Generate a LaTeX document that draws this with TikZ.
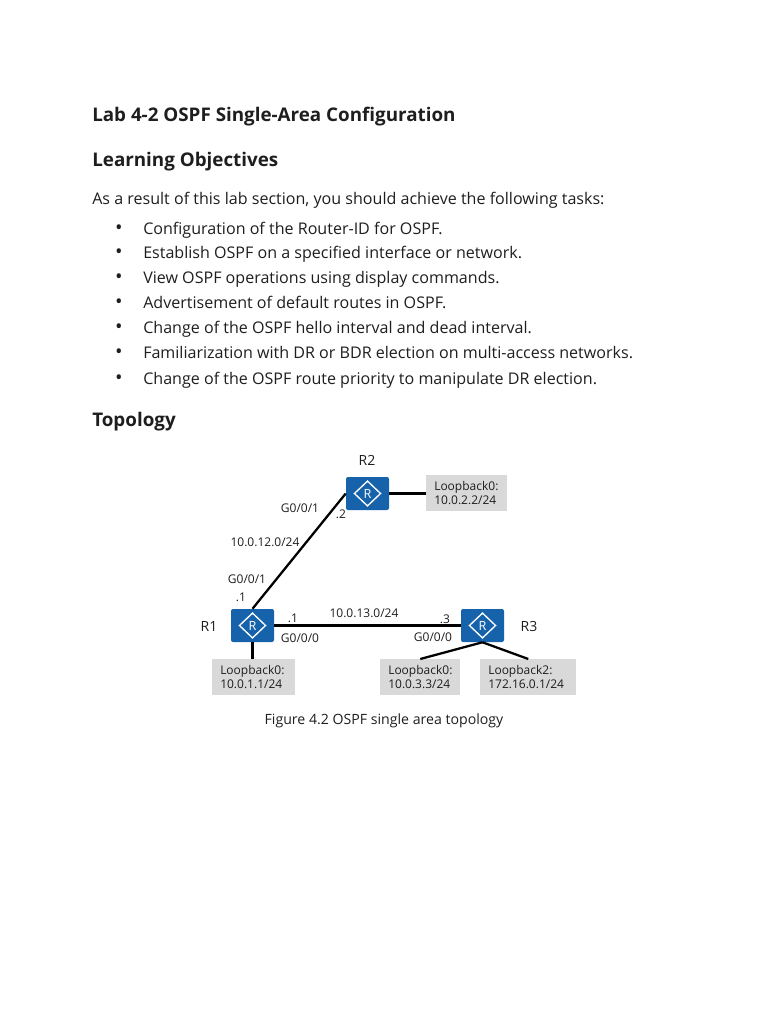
\documentclass[tikz,border=0pt]{standalone}
\usepackage{fontspec}
\setmainfont{Open Sans}
\usepackage{tikz}
\usetikzlibrary{positioning,shapes.geometric}

\definecolor{routerblue}{HTML}{1763AB}
\definecolor{loopgray}{HTML}{D9D9D9}
\definecolor{inktext}{HTML}{1E1E1E}

\begin{document}
\begin{tikzpicture}[
		x=0.75pt, y=-0.75pt,
		every node/.style={text=inktext},
		heading/.style={anchor=base west, inner sep=0pt, font=\bfseries\fontsize{#1}{#1}\selectfont},
		body/.style={anchor=base west, inner sep=0pt, font=\fontsize{12.05}{14}\selectfont},
		bullet/.style={anchor=center, inner sep=0pt, font=\fontsize{15}{15}\selectfont},
		router/.style={rectangle, fill=routerblue, rounded corners=1.5pt, minimum width=32.25pt, minimum height=24.75pt, inner sep=0pt},
		routermark/.style={diamond, draw=white, line width=1pt, minimum width=20pt, minimum height=19pt, inner sep=0pt, text=white, font=\fontsize{9.5}{10}\selectfont},
		loopbox/.style={rectangle, fill=loopgray, anchor=north west, align=left, text width=#1, minimum height=26.5pt, inner sep=0pt, inner xsep=6pt, font=\fontsize{9}{10}\selectfont},
		tag/.style={inner sep=0pt, font=\fontsize{9}{11}\selectfont},
		rname/.style={inner sep=0pt, font=\fontsize{10.5}{12}\selectfont},
		link/.style={line width=1.7pt, black}
		]
		\useasboundingbox (0,0) rectangle (768,1024);
		
		%==================== Text ====================%
		\node[heading=14.1] (title) at (92,122) {Lab 4-2 OSPF Single-Area Configuration};
		\node[heading=14.1] (objectives) at (92,166) {Learning Objectives};
		\node[body] (intro) at (92,204.5) {As a result of this lab section, you should achieve the following tasks:};
		
		\node[bullet] (b1) at (119,229.5) {•};
		\node[bullet] (b2) at (119,254) {•};
		\node[bullet] (b3) at (119,278.5) {•};
		\node[bullet] (b4) at (119,303.5) {•};
		\node[bullet] (b5) at (119,328.5) {•};
		\node[bullet] (b6) at (119,353.5) {•};
		\node[bullet] (b7) at (119,379.5) {•};
		
		\node[body] (t1) at (143,234) {Configuration of the Router-ID for OSPF.};
		\node[body] (t2) at (143,258.5) {Establish OSPF on a specified interface or network.};
		\node[body] (t3) at (143,283) {View OSPF operations using display commands.};
		\node[body] (t4) at (143,308) {Advertisement of default routes in OSPF.};
		\node[body] (t5) at (143,333) {Change of the OSPF hello interval and dead interval.};
		\node[body] (t6) at (143,358) {Familiarization with DR or BDR election on multi-access networks.};
		\node[body] (t7) at (143,384) {Change of the OSPF route priority to manipulate DR election.};
		
		\node[heading=14.1] (topology) at (92,426) {Topology};
		
		%==================== Routers ====================%
		\node[router] (r1) at (252.5,625.5) {};
		\node[router] (r2) at (367.5,493.5) {};
		\node[router] (r3) at (482.5,625.5) {};
		\node[routermark] (m1) at (r1) {R};
		\node[routermark] (m2) at (r2) {R};
		\node[routermark] (m3) at (r3) {R};
		
		\node[rname] (n1) at (209,626) {R1};
		\node[rname] (n2) at (367,460.5) {R2};
		\node[rname] (n3) at (529,626) {R3};
		
		%==================== Loopbacks ====================%
		\node[loopbox=50.25pt] (lb1) at (212,659) {Loopback0:\\10.0.1.1/24};
		\node[loopbox=48.75pt] (lb2) at (426,475) {Loopback0:\\10.0.2.2/24};
		\node[loopbox=48pt] (lb3) at (380,659) {Loopback0:\\10.0.3.3/24};
		\node[loopbox=60pt] (lb4) at (480,659) {Loopback2:\\172.16.0.1/24};
		
		%==================== Arrows ====================%
		\draw[link] (r1.north) -- (r2.west);
		\draw[link] (r1.east) -- (r3.west);
		\draw[link] (r2.east) -- (r2.east -| lb2.west);
		\draw[link] (r1.south) -- (r1.south |- lb1.north);
		\draw[link] (r3.south) -- (lb3.north);
		\draw[link] (r3.south) -- (lb4.north);
		
		%==================== Labels ====================%
		\node[tag] (p1) at (300,508.5) {G0/0/1};
		\node[tag] (a2) at (341,514.5) {.2};
		\node[tag] (net12) at (265,542) {10.0.12.0/24};
		\node[tag] (p2) at (247,579.5) {G0/0/1};
		\node[tag] (a1) at (241,597.5) {.1};
		\node[tag] (a3) at (293,618.5) {.1};
		\node[tag] (net13) at (364,613.5) {10.0.13.0/24};
		\node[tag] (a4) at (445,619.5) {.3};
		\node[tag] (p3) at (300,638.5) {G0/0/0};
		\node[tag] (p4) at (433,637.5) {G0/0/0};
		
		\node[inner sep=0pt, font=\fontsize{10.6}{12}\selectfont] (caption) at (384,720.5) {Figure 4.2 OSPF single area topology};
		
	\end{tikzpicture}
\end{document}
